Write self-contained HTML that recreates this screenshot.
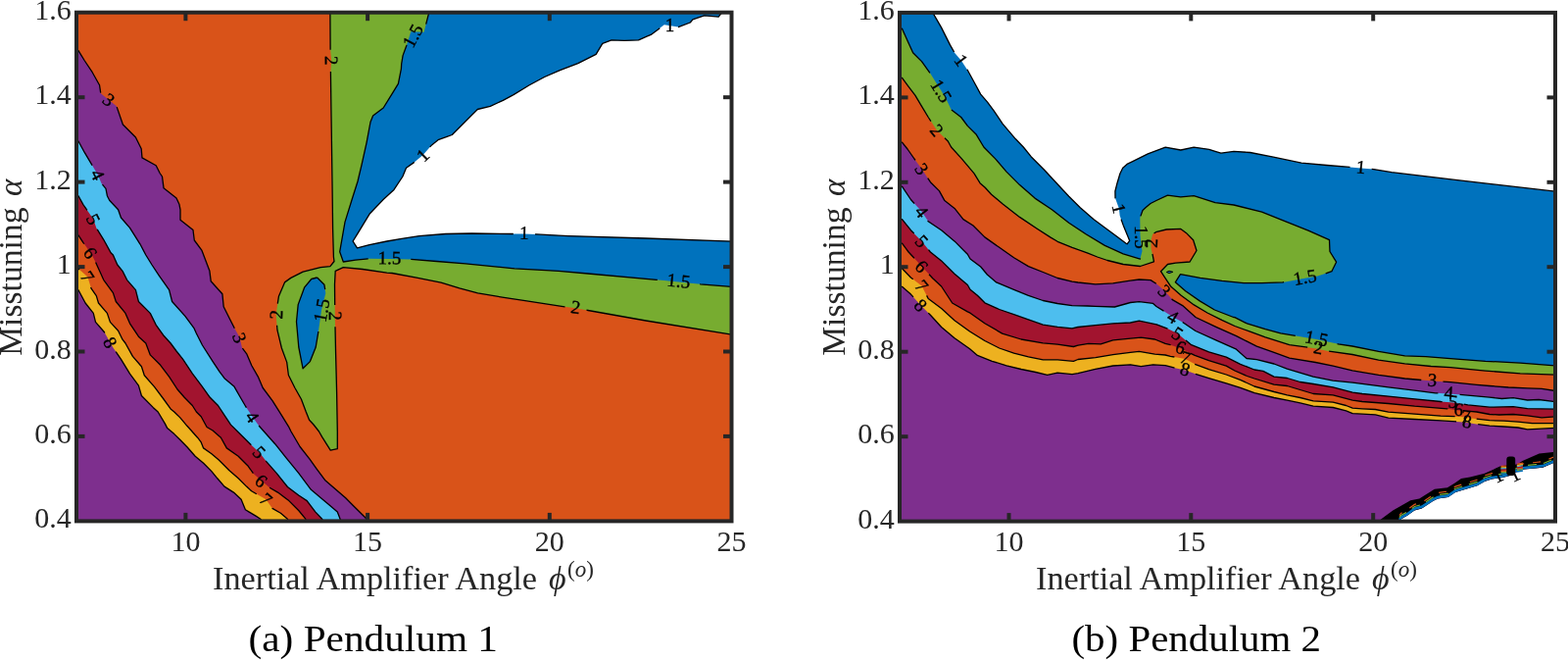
<!DOCTYPE html>
<html><head><meta charset="utf-8"><style>html,body{margin:0;padding:0;background:#fff;width:1600px;height:673px;overflow:hidden}svg{display:block}</style></head><body>
<svg width="1600" height="673" viewBox="0 0 1600 673" font-family='"Liberation Serif", "DejaVu Serif", serif'>
<rect width="1600" height="673" fill="#fff"/>
<clipPath id="cl"><rect x="78" y="12.7" width="668.5" height="518.6999999999999"/></clipPath>
<g clip-path="url(#cl)">
<rect x="78" y="12.7" width="668.5" height="518.6999999999999" fill="#D95319"/>
<polygon points="78.0,51.6 80.0,51.6 86.4,62.0 94.2,73.7 101.5,86.7 102.8,95.3 110.8,101.8 118.9,108.3 125.4,127.0 138.4,140.0 144.2,151.8 145.0,160.9 159.2,168.7 163.1,176.5 165.5,180.0 167.0,191.7 180.0,202.0 183.0,208.6 184.0,213.8 184.0,224.2 197.0,234.6 198.3,245.0 206.0,255.4 213.9,276.3 215.2,286.7 226.9,299.7 228.2,312.7 234.7,325.7 240.0,336.0 244.5,344.1 247.0,354.7 251.9,361.2 256.8,372.7 263.3,384.1 268.2,395.5 278.0,408.6 286.2,421.7 294.4,434.8 297.0,440.0 306.1,455.5 316.0,468.2 323.1,478.1 331.5,489.4 342.8,499.3 352.7,507.8 362.6,517.7 372.5,527.5 373.9,529.2 375.5,531.4 78.0,531.4" fill="#7E2F8E"/>
<polygon points="78.0,144.0 80.0,144.0 86.4,155.7 94.2,168.7 99.8,178.2 103.5,187.1 108.0,192.3 109.4,199.7 111.7,204.2 120.6,213.8 123.5,222.0 132.5,232.4 142.9,248.8 148.8,260.0 155.0,270.0 162.2,280.8 172.6,295.7 175.6,307.5 188.9,322.4 197.8,334.3 200.4,340.0 206.5,352.0 217.6,369.4 224.1,379.2 229.0,385.7 238.8,393.9 245.3,405.3 251.0,415.0 257.6,425.0 263.3,433.1 269.4,440.0 280.7,452.7 292.0,466.8 304.7,482.4 317.4,499.3 335.8,514.8 344.3,521.9 347.1,529.2 347.5,531.4 78.0,531.4" fill="#4DBEEE"/>
<polygon points="78.0,199.7 80.0,199.7 84.9,208.6 90.1,216.1 95.3,223.5 98.3,232.4 105.7,244.3 113.1,257.7 115.4,260.0 119.8,270.0 125.0,276.3 129.5,285.3 138.4,295.7 141.4,307.5 153.3,319.4 159.2,331.3 166.6,341.7 174.1,350.0 180.0,358.0 186.5,366.1 196.3,380.8 206.1,393.9 214.3,405.3 222.5,413.5 229.0,423.3 235.5,433.1 243.7,441.3 255.3,452.7 264.5,461.2 272.2,471.1 282.1,482.4 293.4,496.5 304.7,505.0 313.2,510.6 321.7,521.9 328.7,529.2 329.5,531.4 78.0,531.4" fill="#A2142F"/>
<polygon points="78.0,239.8 80.0,239.8 84.9,247.3 92.3,257.7 93.8,260.0 98.3,268.9 105.7,285.3 115.4,298.6 118.3,307.5 128.0,319.4 132.5,329.8 141.4,343.2 148.8,350.0 153.3,361.9 163.7,372.3 172.6,384.2 181.0,397.0 188.2,405.3 196.3,413.5 200.4,420.0 205.2,424.8 211.1,435.5 217.1,439.0 225.4,446.2 231.3,456.9 243.2,465.2 252.7,474.7 258.7,483.0 266.6,490.1 275.1,497.2 283.5,502.1 294.8,510.6 304.7,520.5 311.8,529.2 312.5,531.4 78.0,531.4" fill="#D95319"/>
<polygon points="78.0,274.1 80.0,274.1 89.4,282.3 93.1,294.2 98.3,301.6 100.5,309.0 109.4,319.4 112.4,328.4 120.6,337.3 125.0,346.2 128.0,350.0 135.4,363.4 144.4,373.8 147.3,382.7 157.7,394.6 166.6,406.5 174.1,416.9 177.8,420.0 183.8,425.9 190.9,434.3 201.6,446.2 205.2,450.9 207.6,456.9 215.9,462.8 223.0,468.8 229.0,474.7 233.7,479.5 243.2,487.8 251.6,496.1 256.7,500.7 264.0,505.0 271.5,509.2 277.9,518.4 286.4,523.3 293.4,529.2 294.0,531.4 78.0,531.4" fill="#EDB120"/>
<polygon points="78.0,295.7 80.0,295.7 87.1,309.0 95.3,319.4 97.5,328.4 106.5,338.8 112.4,349.2 115.4,354.5 123.5,366.3 132.5,381.2 141.4,393.1 144.4,403.5 156.2,415.4 161.2,420.0 168.3,431.9 170.7,436.6 177.8,442.6 183.8,448.5 190.9,455.7 199.2,465.2 207.6,472.3 215.9,480.6 221.8,487.8 229.0,496.1 238.4,502.1 246.1,509.2 250.4,519.8 253.9,521.9 261.0,526.1 265.9,529.2 267.0,531.4 78.0,531.4" fill="#7E2F8E"/>
<polygon points="336.7,12.7 336.9,14.1 337.1,50.4 338.2,61.8 337.4,73.2 337.9,110.0 339.0,185.0 339.6,233.5 340.4,262.0 341.0,266.5 336.9,271.6 327.1,272.7 309.2,277.2 296.8,283.4 290.5,287.9 284.5,301.9 281.6,320.7 283.0,336.7 287.4,355.0 292.7,369.4 294.4,382.5 300.9,395.5 307.4,407.0 312.3,420.1 315.6,428.2 320.0,433.0 325.5,440.0 328.7,445.6 337.2,459.1 344.3,457.7 344.3,440.0 343.6,400.0 342.5,357.0 341.8,322.2 341.5,290.0 342.2,276.3 350.3,272.7 369.9,274.5 394.8,278.1 400.0,278.5 425.0,283.1 450.0,288.1 468.8,293.8 487.5,298.8 512.5,303.1 537.5,306.9 576.3,312.8 587.5,314.3 600.0,316.5 659.1,327.0 746.5,341.2 746.5,12.7" fill="#77AC30"/>
<polygon points="437.4,12.7 437.4,14.1 433.8,28.0 432.7,32.8 419.3,32.2 414.9,46.2 411.1,56.6 409.7,65.0 409.4,70.1 406.4,85.3 401.8,92.8 391.2,110.0 380.6,118.0 378.0,124.5 374.1,145.3 368.9,168.7 365.0,185.0 359.2,203.2 352.0,226.4 346.7,256.7 350.3,267.0 362.7,265.2 377.0,263.8 397.5,264.0 418.9,264.4 445.7,266.5 475.0,268.8 525.0,273.8 552.7,275.4 570.0,276.4 600.0,279.0 670.2,285.3 692.5,287.5 714.8,289.8 746.5,292.4 746.5,12.7" fill="#0072BD"/>
<polygon points="735.8,12.7 735.8,13.8 733.2,17.2 718.7,15.9 706.9,19.8 704.3,23.0 692.1,27.6 677.8,25.3 664.2,35.4 660.0,37.1 651.6,40.9 637.2,41.4 624.0,40.9 614.8,44.3 608.2,55.4 589.8,64.6 571.4,71.7 555.6,78.5 539.8,87.0 524.0,96.6 513.3,102.4 500.3,108.3 487.3,111.5 479.5,119.3 461.3,137.5 456.1,139.3 447.0,142.7 440.5,147.9 431.4,158.3 423.6,164.8 414.5,171.3 410.9,180.0 402.0,193.4 391.3,203.2 377.0,218.3 364.5,238.9 360.1,246.0 364.5,252.8 377.0,249.6 394.8,246.0 410.0,243.3 427.8,240.6 454.6,238.5 481.4,238.0 522.4,238.5 534.9,238.6 547.4,238.9 570.0,240.1 580.0,240.6 659.1,243.0 746.5,246.1 746.5,12.7" fill="#fff"/>
<polygon points="323.6,283.0 330.9,290.3 332.3,299.0 330.0,308.0 328.0,316.4 325.1,336.7 322.2,354.0 316.4,368.6 309.1,375.8 304.8,354.0 302.5,328.0 304.2,310.6 310.6,293.2 317.8,284.5 323.6,283.0" fill="#0072BD"/>
<path d="M78.0,51.6 L80.0,51.6 L86.4,62.0 L94.2,73.7 L101.5,86.7 L102.7,94.6 M119.2,109.1 L125.4,127.0 L138.4,140.0 L144.2,151.8 L145.0,160.9 L159.2,168.7 L163.1,176.5 L165.5,180.0 L167.0,191.7 L180.0,202.0 L183.0,208.6 L184.0,213.8 L184.0,224.2 L197.0,234.6 L198.3,245.0 L206.0,255.4 L213.9,276.3 L215.2,286.7 L226.9,299.7 L228.2,312.7 L234.7,325.7 L239.3,334.7 M247.4,355.2 L251.9,361.2 L256.8,372.7 L263.3,384.1 L268.2,395.5 L278.0,408.6 L286.2,421.7 L294.4,434.8 L297.0,440.0 L306.1,455.5 L316.0,468.2 L323.1,478.1 L331.5,489.4 L342.8,499.3 L352.7,507.8 L362.6,517.7 L372.5,527.5 L373.9,529.2 L375.5,531.4" fill="none" stroke="#000" stroke-width="1.3" stroke-linejoin="round"/>
<path d="M78.0,144.0 L80.0,144.0 L86.4,155.7 L94.1,168.6 M104.5,188.2 L108.0,192.3 L109.4,199.7 L111.7,204.2 L120.6,213.8 L123.5,222.0 L132.5,232.4 L142.9,248.8 L148.8,260.0 L155.0,270.0 L162.2,280.8 L172.6,295.7 L175.6,307.5 L188.9,322.4 L197.8,334.3 L200.4,340.0 L206.5,352.0 L217.6,369.4 L224.1,379.2 L229.0,385.7 L238.8,393.9 L245.3,405.3 L251.0,415.0 L251.5,415.7 M264.1,434.0 L269.4,440.0 L280.7,452.7 L292.0,466.8 L304.7,482.4 L317.4,499.3 L335.8,514.8 L344.3,521.9 L347.1,529.2 L347.5,531.4" fill="none" stroke="#000" stroke-width="1.3" stroke-linejoin="round"/>
<path d="M78.0,199.7 L80.0,199.7 L84.9,208.6 L88.9,214.4 M99.2,233.9 L105.7,244.3 L113.1,257.7 L115.4,260.0 L119.8,270.0 L125.0,276.3 L129.5,285.3 L138.4,295.7 L141.4,307.5 L153.3,319.4 L159.2,331.3 L166.6,341.7 L174.1,350.0 L180.0,358.0 L186.5,366.1 L196.3,380.8 L206.1,393.9 L214.3,405.3 L222.5,413.5 L229.0,423.3 L235.5,433.1 L243.7,441.3 L255.3,452.7 L256.3,453.7 M271.3,470.0 L272.2,471.1 L282.1,482.4 L293.4,496.5 L304.7,505.0 L313.2,510.6 L321.7,521.9 L328.7,529.2 L329.5,531.4" fill="none" stroke="#000" stroke-width="1.3" stroke-linejoin="round"/>
<path d="M78.0,239.8 L80.0,239.8 L84.9,247.3 L85.9,248.6 M97.6,267.5 L98.3,268.9 L105.7,285.3 L115.4,298.6 L118.3,307.5 L128.0,319.4 L132.5,329.8 L141.4,343.2 L148.8,350.0 L153.3,361.9 L163.7,372.3 L172.6,384.2 L181.0,397.0 L188.2,405.3 L196.3,413.5 L200.4,420.0 L205.2,424.8 L211.1,435.5 L217.1,439.0 L225.4,446.2 L231.3,456.9 L243.2,465.2 L252.7,474.7 L258.4,482.6 M275.1,497.2 L283.5,502.1 L294.8,510.6 L304.7,520.5 L311.8,529.2 L312.5,531.4" fill="none" stroke="#000" stroke-width="1.3" stroke-linejoin="round"/>
<path d="M78.0,274.1 L80.0,274.1 L81.0,275.0 M92.7,292.9 L93.1,294.2 L98.3,301.6 L100.5,309.0 L109.4,319.4 L112.4,328.4 L120.6,337.3 L125.0,346.2 L128.0,350.0 L135.4,363.4 L144.4,373.8 L147.3,382.7 L157.7,394.6 L166.6,406.5 L174.1,416.9 L177.8,420.0 L183.8,425.9 L190.9,434.3 L201.6,446.2 L205.2,450.9 L207.6,456.9 L215.9,462.8 L223.0,468.8 L229.0,474.7 L233.7,479.5 L243.2,487.8 L251.6,496.1 L256.7,500.7 L261.8,503.7 M277.9,518.3 L277.9,518.4 L286.4,523.3 L293.4,529.2 L294.0,531.4" fill="none" stroke="#000" stroke-width="1.3" stroke-linejoin="round"/>
<path d="M78.0,295.7 L80.0,295.7 L87.1,309.0 L95.3,319.4 L97.5,328.4 L106.5,338.8 L106.9,339.5 M118.2,358.7 L123.5,366.3 L132.5,381.2 L141.4,393.1 L144.4,403.5 L156.2,415.4 L161.2,420.0 L168.3,431.9 L170.7,436.6 L177.8,442.6 L183.8,448.5 L190.9,455.7 L199.2,465.2 L207.6,472.3 L215.9,480.6 L221.8,487.8 L229.0,496.1 L238.4,502.1 L246.1,509.2 L250.4,519.8 L253.9,521.9 L261.0,526.1 L265.9,529.2 L267.0,531.4" fill="none" stroke="#000" stroke-width="1.3" stroke-linejoin="round"/>
<path d="M336.7,12.7 L336.9,14.1 L337.1,50.4 L337.1,50.7 M337.4,72.9 L337.4,73.2 L337.9,110.0 L339.0,185.0 L339.6,233.5 L340.4,262.0 L341.0,266.5 L336.9,271.6 L327.1,272.7 L309.2,277.2 L296.8,283.4 L290.5,287.9 L284.5,301.9 L283.3,309.7 M282.6,331.8 L283.0,336.7 L287.4,355.0 L292.7,369.4 L294.4,382.5 L300.9,395.5 L307.4,407.0 L312.3,420.1 L315.6,428.2 L320.0,433.0 L325.5,440.0 L328.7,445.6 L337.2,459.1 L344.3,457.7 L344.3,440.0 L343.6,400.0 L342.5,357.0 L342.0,333.3 M341.7,311.1 L341.5,290.0 L342.2,276.3 L350.3,272.7 L369.9,274.5 L394.8,278.1 L400.0,278.5 L425.0,283.1 L450.0,288.1 L468.8,293.8 L487.5,298.8 L512.5,303.1 L537.5,306.9 L576.3,312.8 L576.5,312.8 M598.5,316.2 L600.0,316.5 L659.1,327.0 L746.5,341.2" fill="none" stroke="#000" stroke-width="1.3" stroke-linejoin="round"/>
<path d="M437.4,12.7 L437.4,14.1 L434.7,24.7 M415.0,45.8 L414.9,46.2 L411.1,56.6 L409.7,65.0 L409.4,70.1 L406.4,85.3 L401.8,92.8 L391.2,110.0 L380.6,118.0 L378.0,124.5 L374.1,145.3 L368.9,168.7 L365.0,185.0 L359.2,203.2 L352.0,226.4 L346.7,256.7 L350.3,267.0 L362.7,265.2 L375.7,263.9 M419.3,264.4 L445.7,266.5 L475.0,268.8 L525.0,273.8 L552.7,275.4 L570.0,276.4 L600.0,279.0 L670.2,285.3 L670.8,285.4 M714.2,289.7 L714.8,289.8 L746.5,292.4" fill="none" stroke="#000" stroke-width="1.3" stroke-linejoin="round"/>
<path d="M735.8,12.7 L735.8,13.8 L733.2,17.2 L718.7,15.9 L706.9,19.8 L704.3,23.0 L692.1,27.6 L692.0,27.6 M673.3,28.7 L664.2,35.4 L660.0,37.1 L651.6,40.9 L637.2,41.4 L624.0,40.9 L614.8,44.3 L608.2,55.4 L589.8,64.6 L571.4,71.7 L555.6,78.5 L539.8,87.0 L524.0,96.6 L513.3,102.4 L500.3,108.3 L487.3,111.5 L479.5,119.3 L461.3,137.5 L456.1,139.3 L447.0,142.7 L440.5,147.9 L438.7,149.9 M422.8,165.4 L414.5,171.3 L410.9,180.0 L402.0,193.4 L391.3,203.2 L377.0,218.3 L364.5,238.9 L360.1,246.0 L364.5,252.8 L377.0,249.6 L394.8,246.0 L410.0,243.3 L427.8,240.6 L454.6,238.5 L481.4,238.0 L522.4,238.5 L523.8,238.5 M546.0,238.9 L547.4,238.9 L570.0,240.1 L580.0,240.6 L659.1,243.0 L746.5,246.1" fill="none" stroke="#000" stroke-width="1.3" stroke-linejoin="round"/>
<path d="M323.6,283.0 L330.9,290.3 L331.7,295.2 M324.9,338.0 L322.2,354.0 L316.4,368.6 L309.1,375.8 L304.8,354.0 L302.5,328.0 L304.2,310.6 L310.6,293.2 L317.8,284.5 L323.6,283.0" fill="none" stroke="#000" stroke-width="1.3" stroke-linejoin="round"/>
</g>
<text x="111.0" y="101.8" transform="rotate(38.9 111.0 101.8)" text-anchor="middle" dominant-baseline="central" font-size="19" fill="#000" stroke="#000" stroke-width="0.35">3</text>
<text x="244.5" y="344.5" transform="rotate(69.4 244.5 344.5)" text-anchor="middle" dominant-baseline="central" font-size="19" fill="#000" stroke="#000" stroke-width="0.35">3</text>
<text x="99.8" y="178.2" transform="rotate(63.5 99.8 178.2)" text-anchor="middle" dominant-baseline="central" font-size="19" fill="#000" stroke="#000" stroke-width="0.35">4</text>
<text x="257.6" y="425.0" transform="rotate(55.7 257.6 425.0)" text-anchor="middle" dominant-baseline="central" font-size="19" fill="#000" stroke="#000" stroke-width="0.35">4</text>
<text x="95.3" y="223.5" transform="rotate(63.1 95.3 223.5)" text-anchor="middle" dominant-baseline="central" font-size="19" fill="#000" stroke="#000" stroke-width="0.35">5</text>
<text x="264.5" y="461.2" transform="rotate(47.4 264.5 461.2)" text-anchor="middle" dominant-baseline="central" font-size="19" fill="#000" stroke="#000" stroke-width="0.35">5</text>
<text x="92.3" y="257.7" transform="rotate(57.4 92.3 257.7)" text-anchor="middle" dominant-baseline="central" font-size="19" fill="#000" stroke="#000" stroke-width="0.35">6</text>
<text x="266.6" y="490.1" transform="rotate(40.9 266.6 490.1)" text-anchor="middle" dominant-baseline="central" font-size="19" fill="#000" stroke="#000" stroke-width="0.35">6</text>
<text x="89.4" y="282.3" transform="rotate(56.9 89.4 282.3)" text-anchor="middle" dominant-baseline="central" font-size="19" fill="#000" stroke="#000" stroke-width="0.35">7</text>
<text x="271.5" y="509.2" transform="rotate(42.2 271.5 509.2)" text-anchor="middle" dominant-baseline="central" font-size="19" fill="#000" stroke="#000" stroke-width="0.35">7</text>
<text x="112.4" y="349.2" transform="rotate(60.5 112.4 349.2)" text-anchor="middle" dominant-baseline="central" font-size="19" fill="#000" stroke="#000" stroke-width="0.35">8</text>
<text x="338.4" y="61.8" transform="rotate(89.3 338.4 61.8)" text-anchor="middle" dominant-baseline="central" font-size="19" fill="#000" stroke="#000" stroke-width="0.35">2</text>
<text x="281.6" y="320.7" transform="rotate(-88.1 281.6 320.7)" text-anchor="middle" dominant-baseline="central" font-size="19" fill="#000" stroke="#000" stroke-width="0.35">2</text>
<text x="342.4" y="322.2" transform="rotate(89.2 342.4 322.2)" text-anchor="middle" dominant-baseline="central" font-size="19" fill="#000" stroke="#000" stroke-width="0.35">2</text>
<text x="587.5" y="313.1" transform="rotate(8.8 587.5 313.1)" text-anchor="middle" dominant-baseline="central" font-size="19" fill="#000" stroke="#000" stroke-width="0.35">2</text>
<text x="421.2" y="36.5" transform="rotate(-62.0 421.2 36.5)" text-anchor="middle" dominant-baseline="central" font-size="19" fill="#000" stroke="#000" stroke-width="0.35">1.5</text>
<text x="397.5" y="262.8" transform="rotate(0.8 397.5 262.8)" text-anchor="middle" dominant-baseline="central" font-size="19" fill="#000" stroke="#000" stroke-width="0.35">1.5</text>
<text x="692.5" y="286.3" transform="rotate(5.8 692.5 286.3)" text-anchor="middle" dominant-baseline="central" font-size="19" fill="#000" stroke="#000" stroke-width="0.35">1.5</text>
<text x="328.0" y="316.4" transform="rotate(-79.2 328.0 316.4)" text-anchor="middle" dominant-baseline="central" font-size="19" fill="#000" stroke="#000" stroke-width="0.35">1.5</text>
<text x="683.5" y="25.0" transform="rotate(0.0 683.5 25.0)" text-anchor="middle" dominant-baseline="central" font-size="19" fill="#000" stroke="#000" stroke-width="0.35">1</text>
<text x="431.4" y="158.3" transform="rotate(-44.3 431.4 158.3)" text-anchor="middle" dominant-baseline="central" font-size="19" fill="#000" stroke="#000" stroke-width="0.35">1</text>
<text x="534.9" y="237.4" transform="rotate(0.9 534.9 237.4)" text-anchor="middle" dominant-baseline="central" font-size="19" fill="#000" stroke="#000" stroke-width="0.35">1</text>
<clipPath id="cr"><rect x="918" y="12.9" width="669" height="518.7"/></clipPath>
<g clip-path="url(#cr)">
<rect x="918" y="12.9" width="669" height="518.7" fill="#7E2F8E"/>
<polygon points="918.0,292.3 920.5,292.3 929.4,300.1 939.4,311.2 949.4,321.2 960.6,333.5 974.0,344.7 989.6,355.8 997.4,362.4 1012.3,368.3 1027.1,372.8 1042.0,376.5 1056.8,379.5 1068.7,382.4 1079.1,380.2 1094.0,381.7 1100.0,380.7 1117.8,376.3 1135.7,373.0 1153.5,371.8 1164.2,373.6 1176.6,371.8 1189.1,372.7 1197.8,374.9 1209.4,377.5 1219.2,381.1 1233.5,385.6 1251.3,390.9 1265.6,395.4 1280.0,400.7 1300.0,405.5 1313.4,408.2 1326.7,410.9 1340.1,414.2 1360.2,415.5 1373.5,418.9 1380.2,421.6 1390.0,422.2 1403.4,422.9 1416.7,426.2 1443.5,427.5 1470.2,428.9 1490.0,430.2 1497.2,431.0 1506.7,432.5 1520.0,434.1 1534.5,435.0 1549.0,436.0 1558.6,437.9 1568.3,437.4 1587.0,436.4 1587.0,12.9 918.0,12.9" fill="#EDB120"/>
<polygon points="918.0,273.7 920.5,273.7 929.4,283.0 940.5,291.5 947.2,304.5 960.6,314.6 974.0,326.8 989.6,338.0 1004.9,347.5 1019.7,355.0 1034.6,360.2 1049.4,363.9 1064.3,366.8 1079.1,366.8 1095.4,368.3 1100.0,366.5 1117.8,364.7 1135.7,361.6 1153.5,359.3 1162.4,358.4 1178.4,361.1 1189.1,362.0 1194.3,363.3 1209.4,366.0 1219.2,371.3 1233.5,376.6 1251.3,382.0 1265.6,387.3 1280.0,394.0 1300.0,399.5 1313.4,402.8 1326.7,405.5 1340.1,408.9 1360.2,410.2 1373.5,413.5 1380.2,416.2 1390.0,416.8 1403.4,417.5 1416.7,420.2 1443.5,422.2 1470.2,424.2 1490.0,424.9 1495.7,425.5 1506.7,427.2 1520.0,428.7 1534.5,429.2 1549.0,430.2 1563.4,431.6 1587.0,431.6 1587.0,12.9 918.0,12.9" fill="#D95319"/>
<polygon points="918.0,248.1 920.5,248.1 927.1,257.0 940.5,271.5 951.7,283.8 960.6,292.0 971.7,309.0 987.3,317.9 990.0,319.2 1004.9,329.7 1022.7,340.1 1042.0,346.0 1064.3,349.8 1079.1,351.2 1095.4,353.5 1100.0,352.2 1110.7,350.4 1123.2,350.9 1135.7,346.8 1153.5,345.1 1164.2,344.2 1178.4,346.0 1189.1,350.4 1194.3,351.7 1205.0,355.3 1219.2,362.4 1233.5,367.7 1251.3,373.1 1260.0,378.0 1272.5,383.5 1280.0,386.0 1300.0,392.1 1313.4,393.5 1326.7,397.5 1340.1,401.5 1360.2,402.8 1380.2,408.2 1390.0,409.5 1416.7,411.5 1443.5,414.2 1476.9,416.8 1488.4,418.5 1506.7,420.0 1520.0,422.5 1529.7,423.0 1544.1,422.5 1558.6,423.9 1573.1,425.8 1587.0,424.8 1587.0,12.9 918.0,12.9" fill="#A2142F"/>
<polygon points="918.0,223.6 920.5,223.6 929.4,234.7 940.5,245.9 949.4,257.0 960.6,265.9 974.0,279.3 987.3,290.5 990.0,295.3 997.4,301.3 1004.9,308.8 1019.7,315.5 1034.6,320.7 1049.4,325.9 1064.3,331.2 1079.1,333.4 1094.0,334.9 1100.0,333.5 1117.8,331.7 1135.7,329.9 1153.5,329.0 1162.4,327.2 1180.2,330.8 1190.7,334.8 1201.4,340.1 1215.7,351.7 1233.5,358.8 1251.3,364.2 1265.6,371.3 1280.0,377.0 1288.9,378.4 1300.0,384.1 1313.4,385.5 1326.7,389.5 1340.1,391.5 1360.2,394.8 1380.2,400.2 1390.0,401.5 1416.7,404.1 1443.5,406.8 1470.2,409.5 1482.7,410.5 1497.8,412.9 1520.0,415.2 1544.1,414.7 1558.6,416.7 1587.0,417.2 1587.0,12.9 918.0,12.9" fill="#4DBEEE"/>
<polygon points="918.0,190.1 920.5,190.1 929.4,203.5 940.5,215.8 947.2,225.8 960.6,234.7 974.0,245.9 987.3,259.3 990.0,264.0 1000.7,272.0 1007.4,280.0 1016.7,287.9 1034.6,295.3 1049.4,301.3 1064.3,306.5 1079.1,309.5 1094.0,311.7 1110.0,312.0 1117.8,312.4 1137.4,313.0 1153.5,308.5 1162.4,307.6 1176.6,309.4 1180.0,312.5 1187.1,316.9 1196.9,323.2 1206.7,328.5 1220.0,337.5 1240.8,346.8 1261.6,356.2 1272.0,365.5 1282.4,366.6 1300.0,371.0 1313.4,376.1 1326.7,380.1 1340.1,384.1 1360.2,388.1 1380.2,390.1 1390.0,391.4 1416.7,394.8 1443.5,398.1 1464.9,400.8 1478.5,401.5 1497.8,403.1 1520.0,405.1 1532.5,406.5 1544.1,405.6 1558.6,408.0 1570.2,407.5 1587.0,409.6 1587.0,12.9 918.0,12.9" fill="#7E2F8E"/>
<polygon points="918.0,145.1 920.5,145.1 926.0,152.0 933.0,162.0 940.5,172.3 949.4,185.7 958.4,194.6 963.9,204.6 974.0,212.4 982.9,223.6 993.0,230.0 1004.9,241.9 1019.7,252.3 1034.6,262.7 1049.4,271.6 1064.3,277.5 1079.1,283.5 1094.0,287.2 1100.0,288.0 1117.8,289.8 1135.7,288.9 1153.5,286.2 1162.4,285.0 1174.1,285.6 1180.0,289.3 1188.2,296.5 1196.3,305.6 1206.7,311.6 1220.0,323.5 1240.8,333.3 1261.6,342.7 1272.0,347.9 1282.4,353.1 1300.0,359.3 1315.7,365.1 1342.4,369.5 1360.2,373.1 1380.0,377.9 1406.7,382.4 1433.5,386.0 1461.8,388.5 1480.0,389.7 1506.7,392.4 1520.0,393.5 1539.3,395.0 1558.6,395.9 1573.1,396.4 1587.0,398.5 1587.0,12.9 918.0,12.9" fill="#D95319"/>
<polygon points="918.0,79.3 920.5,79.3 927.1,88.3 933.8,97.2 940.5,108.3 947.2,119.5 956.1,132.9 967.3,144.0 970.6,150.0 980.7,161.1 994.0,176.8 1000.0,186.7 1005.2,191.2 1011.6,198.3 1023.2,207.9 1040.5,221.4 1057.9,233.0 1071.7,241.9 1079.1,246.3 1094.0,252.3 1110.0,258.2 1119.7,262.0 1130.0,265.5 1146.1,269.5 1163.4,271.5 1177.5,266.8 1176.2,260.1 1174.5,253.0 1174.5,245.0 1176.2,238.7 1179.5,236.7 1190.2,234.0 1204.9,233.4 1210.3,237.4 1217.6,244.7 1221.0,255.5 1214.1,267.0 1199.6,268.2 1191.5,269.5 1184.5,276.7 1188.9,283.4 1194.9,292.3 1205.2,301.2 1217.1,310.1 1232.0,319.0 1246.8,326.4 1260.0,332.5 1275.6,338.2 1291.2,343.9 1315.7,351.7 1343.3,355.5 1354.9,357.9 1380.0,361.5 1406.7,367.2 1433.5,370.8 1460.2,373.5 1480.0,374.6 1515.7,378.1 1551.3,380.8 1587.0,382.1 1587.0,12.9 918.0,12.9" fill="#77AC30"/>
<polygon points="918.0,29.2 920.5,29.2 926.0,41.4 931.6,53.7 940.5,62.6 949.4,74.9 955.0,84.0 960.6,92.7 966.0,102.0 970.6,111.7 980.7,119.5 987.3,128.4 996.3,137.3 1003.9,150.0 1015.4,161.6 1027.0,175.1 1040.5,188.6 1056.0,202.1 1073.4,213.7 1090.7,227.2 1108.1,238.8 1127.4,250.4 1146.1,258.8 1163.4,264.1 1165.5,256.1 1164.3,248.0 1163.5,240.0 1163.3,222.0 1166.0,214.5 1169.2,211.6 1174.0,207.5 1179.9,204.5 1191.4,199.1 1204.8,200.9 1218.2,199.6 1233.8,204.7 1240.0,206.6 1259.0,209.0 1287.6,216.1 1311.3,225.6 1335.1,235.1 1356.5,244.6 1357.0,256.5 1363.6,267.2 1358.9,276.7 1344.6,281.5 1331.5,283.7 1309.0,287.9 1287.6,288.6 1269.1,288.6 1246.8,286.3 1224.6,283.4 1204.5,279.7 1199.3,287.8 1209.7,296.7 1224.6,307.1 1239.4,316.0 1258.7,323.5 1260.0,323.6 1272.5,329.9 1291.2,335.6 1306.8,339.8 1322.4,342.4 1343.3,346.0 1365.6,350.8 1380.0,353.0 1406.7,358.3 1433.5,362.8 1454.9,363.7 1480.0,365.7 1515.7,368.3 1551.3,370.1 1587.0,372.8 1587.0,12.9 918.0,12.9" fill="#0072BD"/>
<polygon points="952.8,12.9 952.8,14.7 960.6,28.1 969.5,45.9 974.0,53.7 980.7,61.5 987.3,71.5 994.0,83.8 1000.7,96.1 1007.4,103.9 1014.1,112.8 1023.0,126.2 1036.4,141.8 1044.3,150.0 1052.1,159.7 1065.6,173.2 1077.2,185.7 1090.7,200.2 1102.3,211.8 1115.8,223.4 1131.3,234.9 1140.1,241.5 1149.1,248.2 1150.1,248.8 1152.7,245.4 1146.1,229.4 1142.7,220.0 1141.9,212.7 1138.0,202.1 1137.9,195.0 1140.0,186.7 1142.9,177.0 1145.7,171.2 1150.0,167.4 1155.7,164.6 1171.3,156.8 1189.2,150.1 1204.8,153.0 1218.2,150.1 1233.8,152.3 1240.0,154.3 1245.9,156.2 1259.0,154.3 1275.7,155.5 1299.4,160.2 1328.0,166.2 1354.1,168.5 1377.9,170.4 1388.6,171.4 1401.7,172.6 1420.0,175.7 1489.2,183.9 1587.0,195.2 1587.0,12.9" fill="#fff"/>
<polygon points="1190.3,277.5 1193,276.3 1196.8,277.3 1193,278.6" fill="#0072BD" stroke="#000" stroke-width="1"/>
<polygon points="1587.0,472.0 1584.7,472.3 1574.3,476.7 1566.9,477.5 1555.7,478.6 1550.5,479.7 1540.9,484.9 1533.4,487.1 1522.3,488.6 1514.9,490.9 1507.4,495.3 1500.0,497.5 1485.0,502.1 1477.7,507.0 1467.1,508.6 1462.2,511.0 1450.8,518.4 1443.4,520.4 1436.0,525.8 1429.5,529.4 1428.0,531.6 1587.0,531.6" fill="#fff"/>
<polygon points="1407.0,531.6 1409.1,529.4 1421.3,520.4 1439.3,510.2 1448.3,508.6 1463.8,498.8 1476.9,497.2 1485.0,492.3 1491.0,487.9 1500.0,486.4 1514.9,482.7 1531.2,475.3 1537.0,474.5 1548.0,473.5 1553.5,470.1 1570.6,462.6 1584.7,461.1 1587.0,461.0 1587.0,472.0 1584.7,472.3 1574.3,476.7 1566.9,477.5 1555.7,478.6 1550.5,479.7 1540.9,484.9 1533.4,487.1 1522.3,488.6 1514.9,490.9 1507.4,495.3 1500.0,497.5 1485.0,502.1 1477.7,507.0 1467.1,508.6 1462.2,511.0 1450.8,518.4 1443.4,520.4 1436.0,525.8 1429.5,529.4 1428.0,531.6" fill="#000"/>
<polyline points="1428.0,530.0 1429.5,527.8 1436.0,524.2 1443.4,518.8 1450.8,516.8 1462.2,509.4 1467.1,507.0 1477.7,505.4 1485.0,500.5 1500.0,495.9 1507.4,493.7 1514.9,489.3 1522.3,487.0 1533.4,485.5 1540.9,483.3 1550.5,478.1 1555.7,477.0 1566.9,475.9 1574.3,475.1 1584.7,470.7 1587.0,470.4" fill="none" stroke="#0072BD" stroke-width="2.6"/>
<polyline points="1428.0,527.7 1429.5,525.5 1436.0,521.9 1443.4,516.5 1450.8,514.5 1462.2,507.1 1467.1,504.7 1477.7,503.1 1485.0,498.2 1500.0,493.6 1507.4,491.4 1514.9,487.0 1522.3,484.7 1533.4,483.2 1540.9,481.0 1550.5,475.8 1555.7,474.7 1566.9,473.6 1574.3,472.8 1584.7,468.4 1587.0,468.1" fill="none" stroke="#77AC30" stroke-width="1.2" stroke-dasharray="9 7"/>
<polyline points="1428.0,525.6 1429.5,523.4 1436.0,519.8 1443.4,514.4 1450.8,512.4 1462.2,505.0 1467.1,502.6 1477.7,501.0 1485.0,496.1 1500.0,491.5 1507.4,489.3 1514.9,484.9 1522.3,482.6 1533.4,481.1 1540.9,478.9 1550.5,473.7 1555.7,472.6 1566.9,471.5 1574.3,470.7 1584.7,466.3 1587.0,466.0" fill="none" stroke="#D95319" stroke-width="1.2" stroke-dasharray="8 9" stroke-dashoffset="4"/>
<line x1="1531.5" y1="475.4" x2="1537.5" y2="475.2" stroke="#D95319" stroke-width="1.3"/>
<line x1="1548" y1="473.2" x2="1554" y2="472.2" stroke="#D95319" stroke-width="1.3"/>
<line x1="1531.5" y1="476.8" x2="1537.5" y2="476.6" stroke="#EDB120" stroke-width="1.3"/>
<line x1="1548" y1="474.6" x2="1554" y2="473.6" stroke="#EDB120" stroke-width="1.3"/>
<line x1="1531.5" y1="478.0" x2="1537.5" y2="477.8" stroke="#4DBEEE" stroke-width="1.3"/>
<line x1="1548" y1="475.8" x2="1554" y2="474.8" stroke="#4DBEEE" stroke-width="1.3"/>
<line x1="1531.5" y1="479.2" x2="1537.5" y2="479.0" stroke="#A2142F" stroke-width="1.3"/>
<line x1="1548" y1="477.0" x2="1554" y2="476.0" stroke="#A2142F" stroke-width="1.3"/>
<line x1="1531.5" y1="480.4" x2="1537.5" y2="480.2" stroke="#D95319" stroke-width="1.3"/>
<line x1="1548" y1="478.2" x2="1554" y2="477.2" stroke="#D95319" stroke-width="1.3"/>
<line x1="1531.5" y1="481.8" x2="1537.5" y2="481.6" stroke="#77AC30" stroke-width="1.3"/>
<line x1="1548" y1="479.6" x2="1554" y2="478.6" stroke="#77AC30" stroke-width="1.3"/>
<line x1="1531.5" y1="483.2" x2="1537.5" y2="483.0" stroke="#0072BD" stroke-width="1.3"/>
<line x1="1548" y1="481.0" x2="1554" y2="480.0" stroke="#0072BD" stroke-width="1.3"/>
<rect x="1537.3" y="465.4" width="8.9" height="19.5" rx="3" fill="#000"/>
<text x="1528.3" y="485" transform="rotate(-25 1528.3 485)" text-anchor="middle" dominant-baseline="central" font-size="19" fill="#000" stroke="#000" stroke-width="0.35">1</text>
<text x="1545.5" y="484.2" transform="rotate(-25 1545.5 484.2)" text-anchor="middle" dominant-baseline="central" font-size="19" fill="#000" stroke="#000" stroke-width="0.35">1</text>
<path d="M952.8,12.9 L952.8,14.7 L960.6,28.1 L969.5,45.9 L973.6,53.0 M986.8,70.8 L987.3,71.5 L994.0,83.8 L1000.7,96.1 L1007.4,103.9 L1014.1,112.8 L1023.0,126.2 L1036.4,141.8 L1044.3,150.0 L1052.1,159.7 L1065.6,173.2 L1077.2,185.7 L1090.7,200.2 L1102.3,211.8 L1115.8,223.4 L1131.3,234.9 L1140.1,241.5 L1149.1,248.2 L1150.1,248.8 L1152.7,245.4 L1146.1,229.4 L1144.0,223.6 M1138.1,202.3 L1138.0,202.1 L1137.9,195.0 L1140.0,186.7 L1142.9,177.0 L1145.7,171.2 L1150.0,167.4 L1155.7,164.6 L1171.3,156.8 L1189.2,150.1 L1204.8,153.0 L1218.2,150.1 L1233.8,152.3 L1240.0,154.3 L1245.9,156.2 L1259.0,154.3 L1275.7,155.5 L1299.4,160.2 L1328.0,166.2 L1354.1,168.5 L1377.5,170.4 M1399.7,172.4 L1401.7,172.6 L1420.0,175.7 L1489.2,183.9 L1587.0,195.2" fill="none" stroke="#000" stroke-width="1.3" stroke-linejoin="round"/>
<path d="M918.0,29.2 L920.5,29.2 L926.0,41.4 L931.6,53.7 L940.5,62.6 L948.9,74.3 M970.9,111.9 L980.7,119.5 L987.3,128.4 L996.3,137.3 L1003.9,150.0 L1015.4,161.6 L1027.0,175.1 L1040.5,188.6 L1056.0,202.1 L1073.4,213.7 L1090.7,227.2 L1108.1,238.8 L1127.4,250.4 L1146.1,258.8 L1163.4,264.1 L1163.6,263.5 M1163.9,220.4 L1166.0,214.5 L1169.2,211.6 L1174.0,207.5 L1179.9,204.5 L1191.4,199.1 L1204.8,200.9 L1218.2,199.6 L1233.8,204.7 L1240.0,206.6 L1259.0,209.0 L1287.6,216.1 L1311.3,225.6 L1335.1,235.1 L1356.5,244.6 L1357.0,256.5 L1363.6,267.2 L1358.9,276.7 L1352.7,278.8 M1310.1,287.7 L1309.0,287.9 L1287.6,288.6 L1269.1,288.6 L1246.8,286.3 L1224.6,283.4 L1204.5,279.7 L1199.3,287.8 L1209.7,296.7 L1224.6,307.1 L1239.4,316.0 L1258.7,323.5 L1260.0,323.6 L1272.5,329.9 L1291.2,335.6 L1306.8,339.8 L1321.8,342.3 M1364.6,350.6 L1365.6,350.8 L1380.0,353.0 L1406.7,358.3 L1433.5,362.8 L1454.9,363.7 L1480.0,365.7 L1515.7,368.3 L1551.3,370.1 L1587.0,372.8" fill="none" stroke="#000" stroke-width="1.3" stroke-linejoin="round"/>
<path d="M918.0,79.3 L920.5,79.3 L927.1,88.3 L933.8,97.2 L940.5,108.3 L947.2,119.5 L949.9,123.6 M964.0,140.7 L967.3,144.0 L970.6,150.0 L980.7,161.1 L994.0,176.8 L1000.0,186.7 L1005.2,191.2 L1011.6,198.3 L1023.2,207.9 L1040.5,221.4 L1057.9,233.0 L1071.7,241.9 L1079.1,246.3 L1094.0,252.3 L1110.0,258.2 L1119.7,262.0 L1130.0,265.5 L1146.1,269.5 L1163.4,271.5 L1177.5,266.8 L1176.2,260.1 L1175.9,259.0 M1177.6,237.9 L1179.5,236.7 L1190.2,234.0 L1204.9,233.4 L1210.3,237.4 L1217.6,244.7 L1221.0,255.5 L1214.1,267.0 L1199.6,268.2 L1191.5,269.5 L1184.5,276.7 L1188.9,283.4 L1194.9,292.3 L1205.2,301.2 L1217.1,310.1 L1232.0,319.0 L1246.8,326.4 L1260.0,332.5 L1275.6,338.2 L1291.2,343.9 L1315.7,351.7 L1334.2,354.2 M1356.1,358.1 L1380.0,361.5 L1406.7,367.2 L1433.5,370.8 L1460.2,373.5 L1480.0,374.6 L1515.7,378.1 L1551.3,380.8 L1587.0,382.1" fill="none" stroke="#000" stroke-width="1.3" stroke-linejoin="round"/>
<path d="M918.0,145.1 L920.5,145.1 L926.0,152.0 L933.0,162.0 L934.0,163.3 M946.7,181.6 L949.4,185.7 L958.4,194.6 L963.9,204.6 L974.0,212.4 L982.9,223.6 L993.0,230.0 L1004.9,241.9 L1019.7,252.3 L1034.6,262.7 L1049.4,271.6 L1064.3,277.5 L1079.1,283.5 L1094.0,287.2 L1100.0,288.0 L1117.8,289.8 L1135.7,288.9 L1153.5,286.2 L1162.4,285.0 L1174.1,285.6 L1179.8,289.2 M1195.6,304.8 L1196.3,305.6 L1206.7,311.6 L1220.0,323.5 L1240.8,333.3 L1261.6,342.7 L1272.0,347.9 L1282.4,353.1 L1300.0,359.3 L1315.7,365.1 L1342.4,369.5 L1360.2,373.1 L1380.0,377.9 L1406.7,382.4 L1433.5,386.0 L1450.3,387.5 M1472.5,389.2 L1480.0,389.7 L1506.7,392.4 L1520.0,393.5 L1539.3,395.0 L1558.6,395.9 L1573.1,396.4 L1587.0,398.5" fill="none" stroke="#000" stroke-width="1.3" stroke-linejoin="round"/>
<path d="M918.0,190.1 L920.5,190.1 L929.4,203.5 L933.0,207.5 M946.7,225.0 L947.2,225.8 L960.6,234.7 L974.0,245.9 L987.3,259.3 L990.0,264.0 L1000.7,272.0 L1007.4,280.0 L1016.7,287.9 L1034.6,295.3 L1049.4,301.3 L1064.3,306.5 L1079.1,309.5 L1094.0,311.7 L1110.0,312.0 L1117.8,312.4 L1137.4,313.0 L1153.5,308.5 L1162.4,307.6 L1176.6,309.4 L1180.0,312.5 L1187.1,316.9 L1187.5,317.2 M1206.7,328.5 L1206.7,328.5 L1220.0,337.5 L1240.8,346.8 L1261.6,356.2 L1272.0,365.5 L1282.4,366.6 L1300.0,371.0 L1313.4,376.1 L1326.7,380.1 L1340.1,384.1 L1360.2,388.1 L1380.2,390.1 L1390.0,391.4 L1416.7,394.8 L1443.5,398.1 L1464.9,400.8 L1467.4,400.9 M1489.6,402.4 L1497.8,403.1 L1520.0,405.1 L1532.5,406.5 L1544.1,405.6 L1558.6,408.0 L1570.2,407.5 L1587.0,409.6" fill="none" stroke="#000" stroke-width="1.3" stroke-linejoin="round"/>
<path d="M918.0,223.6 L920.5,223.6 L929.4,234.7 L932.7,238.0 M947.5,254.6 L949.4,257.0 L960.6,265.9 L974.0,279.3 L987.3,290.5 L990.0,295.3 L997.4,301.3 L1004.9,308.8 L1019.7,315.5 L1034.6,320.7 L1049.4,325.9 L1064.3,331.2 L1079.1,333.4 L1094.0,334.9 L1100.0,333.5 L1117.8,331.7 L1135.7,329.9 L1153.5,329.0 L1162.4,327.2 L1180.2,330.8 L1190.7,334.8 L1191.4,335.2 M1210.0,347.1 L1215.7,351.7 L1233.5,358.8 L1251.3,364.2 L1265.6,371.3 L1280.0,377.0 L1288.9,378.4 L1300.0,384.1 L1313.4,385.5 L1326.7,389.5 L1340.1,391.5 L1360.2,394.8 L1380.2,400.2 L1390.0,401.5 L1416.7,404.1 L1443.5,406.8 L1470.2,409.5 L1471.6,409.6 M1493.7,412.2 L1497.8,412.9 L1520.0,415.2 L1544.1,414.7 L1558.6,416.7 L1587.0,417.2" fill="none" stroke="#000" stroke-width="1.3" stroke-linejoin="round"/>
<path d="M918.0,248.1 L920.5,248.1 L927.1,257.0 L932.9,263.3 M948.0,279.7 L951.7,283.8 L960.6,292.0 L971.7,309.0 L987.3,317.9 L990.0,319.2 L1004.9,329.7 L1022.7,340.1 L1042.0,346.0 L1064.3,349.8 L1079.1,351.2 L1095.4,353.5 L1100.0,352.2 L1110.7,350.4 L1123.2,350.9 L1135.7,346.8 L1153.5,345.1 L1164.2,344.2 L1178.4,346.0 L1189.1,350.4 L1194.3,351.7 L1194.5,351.8 M1215.0,360.3 L1219.2,362.4 L1233.5,367.7 L1251.3,373.1 L1260.0,378.0 L1272.5,383.5 L1280.0,386.0 L1300.0,392.1 L1313.4,393.5 L1326.7,397.5 L1340.1,401.5 L1360.2,402.8 L1380.2,408.2 L1390.0,409.5 L1416.7,411.5 L1443.5,414.2 L1476.9,416.8 L1477.4,416.9 M1499.5,419.4 L1506.7,420.0 L1520.0,422.5 L1529.7,423.0 L1544.1,422.5 L1558.6,423.9 L1573.1,425.8 L1587.0,424.8" fill="none" stroke="#000" stroke-width="1.3" stroke-linejoin="round"/>
<path d="M918.0,273.7 L920.5,273.7 L929.4,283.0 L931.7,284.7 M945.6,301.4 L947.2,304.5 L960.6,314.6 L974.0,326.8 L989.6,338.0 L1004.9,347.5 L1019.7,355.0 L1034.6,360.2 L1049.4,363.9 L1064.3,366.8 L1079.1,366.8 L1095.4,368.3 L1100.0,366.5 L1117.8,364.7 L1135.7,361.6 L1153.5,359.3 L1162.4,358.4 L1178.4,361.1 L1189.1,362.0 L1194.3,363.3 L1198.4,364.0 M1219.2,371.3 L1219.2,371.3 L1233.5,376.6 L1251.3,382.0 L1265.6,387.3 L1280.0,394.0 L1300.0,399.5 L1313.4,402.8 L1326.7,405.5 L1340.1,408.9 L1360.2,410.2 L1373.5,413.5 L1380.2,416.2 L1390.0,416.8 L1403.4,417.5 L1416.7,420.2 L1443.5,422.2 L1470.2,424.2 L1484.6,424.7 M1506.7,427.2 L1506.7,427.2 L1520.0,428.7 L1534.5,429.2 L1549.0,430.2 L1563.4,431.6 L1587.0,431.6" fill="none" stroke="#000" stroke-width="1.3" stroke-linejoin="round"/>
<path d="M918.0,292.3 L920.5,292.3 L929.4,300.1 L932.0,302.9 M947.3,319.1 L949.4,321.2 L960.6,333.5 L974.0,344.7 L989.6,355.8 L997.4,362.4 L1012.3,368.3 L1027.1,372.8 L1042.0,376.5 L1056.8,379.5 L1068.7,382.4 L1079.1,380.2 L1094.0,381.7 L1100.0,380.7 L1117.8,376.3 L1135.7,373.0 L1153.5,371.8 L1164.2,373.6 L1176.6,371.8 L1189.1,372.7 L1197.8,374.9 L1198.5,375.1 M1219.9,381.3 L1233.5,385.6 L1251.3,390.9 L1265.6,395.4 L1280.0,400.7 L1300.0,405.5 L1313.4,408.2 L1326.7,410.9 L1340.1,414.2 L1360.2,415.5 L1373.5,418.9 L1380.2,421.6 L1390.0,422.2 L1403.4,422.9 L1416.7,426.2 L1443.5,427.5 L1470.2,428.9 L1486.1,429.9 M1508.2,432.7 L1520.0,434.1 L1534.5,435.0 L1549.0,436.0 L1558.6,437.9 L1568.3,437.4 L1587.0,436.4" fill="none" stroke="#000" stroke-width="1.3" stroke-linejoin="round"/>
</g>
<text x="980.7" y="61.5" transform="rotate(53.0 980.7 61.5)" text-anchor="middle" dominant-baseline="central" font-size="19" fill="#000" stroke="#000" stroke-width="0.35">1</text>
<text x="1141.9" y="212.7" transform="rotate(76.8 1141.9 212.7)" text-anchor="middle" dominant-baseline="central" font-size="19" fill="#000" stroke="#000" stroke-width="0.35">1</text>
<text x="1388.6" y="170.2" transform="rotate(5.3 1388.6 170.2)" text-anchor="middle" dominant-baseline="central" font-size="19" fill="#000" stroke="#000" stroke-width="0.35">1</text>
<text x="960.6" y="92.7" transform="rotate(58.5 960.6 92.7)" text-anchor="middle" dominant-baseline="central" font-size="19" fill="#000" stroke="#000" stroke-width="0.35">1.5</text>
<text x="1164.2" y="242.0" transform="rotate(90.0 1164.2 242.0)" text-anchor="middle" dominant-baseline="central" font-size="19" fill="#000" stroke="#000" stroke-width="0.35">1.5</text>
<text x="1331.5" y="282.5" transform="rotate(-10.1 1331.5 282.5)" text-anchor="middle" dominant-baseline="central" font-size="19" fill="#000" stroke="#000" stroke-width="0.35">1.5</text>
<text x="1343.3" y="344.8" transform="rotate(11.0 1343.3 344.8)" text-anchor="middle" dominant-baseline="central" font-size="19" fill="#000" stroke="#000" stroke-width="0.35">1.5</text>
<text x="956.1" y="132.9" transform="rotate(50.6 956.1 132.9)" text-anchor="middle" dominant-baseline="central" font-size="19" fill="#000" stroke="#000" stroke-width="0.35">2</text>
<text x="1174.5" y="248.0" transform="rotate(-87.4 1174.5 248.0)" text-anchor="middle" dominant-baseline="central" font-size="19" fill="#000" stroke="#000" stroke-width="0.35">2</text>
<text x="1345.3" y="354.3" transform="rotate(10.4 1345.3 354.3)" text-anchor="middle" dominant-baseline="central" font-size="19" fill="#000" stroke="#000" stroke-width="0.35">2</text>
<text x="940.5" y="172.3" transform="rotate(55.2 940.5 172.3)" text-anchor="middle" dominant-baseline="central" font-size="19" fill="#000" stroke="#000" stroke-width="0.35">3</text>
<text x="1188.2" y="296.5" transform="rotate(44.8 1188.2 296.5)" text-anchor="middle" dominant-baseline="central" font-size="19" fill="#000" stroke="#000" stroke-width="0.35">3</text>
<text x="1461.5" y="387.4" transform="rotate(4.5 1461.5 387.4)" text-anchor="middle" dominant-baseline="central" font-size="19" fill="#000" stroke="#000" stroke-width="0.35">3</text>
<text x="940.5" y="215.8" transform="rotate(52.1 940.5 215.8)" text-anchor="middle" dominant-baseline="central" font-size="19" fill="#000" stroke="#000" stroke-width="0.35">4</text>
<text x="1196.9" y="323.2" transform="rotate(30.6 1196.9 323.2)" text-anchor="middle" dominant-baseline="central" font-size="19" fill="#000" stroke="#000" stroke-width="0.35">4</text>
<text x="1478.5" y="400.3" transform="rotate(3.8 1478.5 400.3)" text-anchor="middle" dominant-baseline="central" font-size="19" fill="#000" stroke="#000" stroke-width="0.35">4</text>
<text x="940.5" y="245.9" transform="rotate(48.3 940.5 245.9)" text-anchor="middle" dominant-baseline="central" font-size="19" fill="#000" stroke="#000" stroke-width="0.35">5</text>
<text x="1201.4" y="340.1" transform="rotate(32.7 1201.4 340.1)" text-anchor="middle" dominant-baseline="central" font-size="19" fill="#000" stroke="#000" stroke-width="0.35">5</text>
<text x="1482.7" y="409.3" transform="rotate(6.8 1482.7 409.3)" text-anchor="middle" dominant-baseline="central" font-size="19" fill="#000" stroke="#000" stroke-width="0.35">5</text>
<text x="940.5" y="271.5" transform="rotate(47.5 940.5 271.5)" text-anchor="middle" dominant-baseline="central" font-size="19" fill="#000" stroke="#000" stroke-width="0.35">6</text>
<text x="1205.0" y="354.1" transform="rotate(22.6 1205.0 354.1)" text-anchor="middle" dominant-baseline="central" font-size="19" fill="#000" stroke="#000" stroke-width="0.35">6</text>
<text x="1488.4" y="417.3" transform="rotate(6.5 1488.4 417.3)" text-anchor="middle" dominant-baseline="central" font-size="19" fill="#000" stroke="#000" stroke-width="0.35">6</text>
<text x="940.5" y="291.5" transform="rotate(50.1 940.5 291.5)" text-anchor="middle" dominant-baseline="central" font-size="19" fill="#000" stroke="#000" stroke-width="0.35">7</text>
<text x="1209.4" y="364.8" transform="rotate(19.3 1209.4 364.8)" text-anchor="middle" dominant-baseline="central" font-size="19" fill="#000" stroke="#000" stroke-width="0.35">7</text>
<text x="1495.7" y="424.3" transform="rotate(7.3 1495.7 424.3)" text-anchor="middle" dominant-baseline="central" font-size="19" fill="#000" stroke="#000" stroke-width="0.35">7</text>
<text x="939.4" y="311.2" transform="rotate(46.5 939.4 311.2)" text-anchor="middle" dominant-baseline="central" font-size="19" fill="#000" stroke="#000" stroke-width="0.35">8</text>
<text x="1209.4" y="376.3" transform="rotate(16.4 1209.4 376.3)" text-anchor="middle" dominant-baseline="central" font-size="19" fill="#000" stroke="#000" stroke-width="0.35">8</text>
<text x="1497.2" y="429.8" transform="rotate(7.7 1497.2 429.8)" text-anchor="middle" dominant-baseline="central" font-size="19" fill="#000" stroke="#000" stroke-width="0.35">8</text>
<rect x="78" y="12.7" width="668.5" height="518.6999999999999" fill="none" stroke="#262626" stroke-width="4"/>
<line x1="189.4" y1="531.4" x2="189.4" y2="522.9" stroke="#262626" stroke-width="4"/>
<line x1="189.4" y1="12.7" x2="189.4" y2="21.2" stroke="#262626" stroke-width="4"/>
<text x="189.4" y="562" text-anchor="middle" font-size="30" fill="#262626">10</text>
<line x1="375.1" y1="531.4" x2="375.1" y2="522.9" stroke="#262626" stroke-width="4"/>
<line x1="375.1" y1="12.7" x2="375.1" y2="21.2" stroke="#262626" stroke-width="4"/>
<text x="375.1" y="562" text-anchor="middle" font-size="30" fill="#262626">15</text>
<line x1="560.8" y1="531.4" x2="560.8" y2="522.9" stroke="#262626" stroke-width="4"/>
<line x1="560.8" y1="12.7" x2="560.8" y2="21.2" stroke="#262626" stroke-width="4"/>
<text x="560.8" y="562" text-anchor="middle" font-size="30" fill="#262626">20</text>
<text x="746.5" y="562" text-anchor="middle" font-size="30" fill="#262626">25</text>
<text x="72.7" y="538.4" text-anchor="end" font-size="30" fill="#262626">0.4</text>
<line x1="78" y1="444.9" x2="86.5" y2="444.9" stroke="#262626" stroke-width="4"/>
<line x1="746.5" y1="444.9" x2="738.0" y2="444.9" stroke="#262626" stroke-width="4"/>
<text x="72.7" y="451.9" text-anchor="end" font-size="30" fill="#262626">0.6</text>
<line x1="78" y1="358.5" x2="86.5" y2="358.5" stroke="#262626" stroke-width="4"/>
<line x1="746.5" y1="358.5" x2="738.0" y2="358.5" stroke="#262626" stroke-width="4"/>
<text x="72.7" y="365.5" text-anchor="end" font-size="30" fill="#262626">0.8</text>
<line x1="78" y1="272.1" x2="86.5" y2="272.1" stroke="#262626" stroke-width="4"/>
<line x1="746.5" y1="272.1" x2="738.0" y2="272.1" stroke="#262626" stroke-width="4"/>
<text x="72.7" y="279.1" text-anchor="end" font-size="30" fill="#262626">1</text>
<line x1="78" y1="185.6" x2="86.5" y2="185.6" stroke="#262626" stroke-width="4"/>
<line x1="746.5" y1="185.6" x2="738.0" y2="185.6" stroke="#262626" stroke-width="4"/>
<text x="72.7" y="192.6" text-anchor="end" font-size="30" fill="#262626">1.2</text>
<line x1="78" y1="99.2" x2="86.5" y2="99.2" stroke="#262626" stroke-width="4"/>
<line x1="746.5" y1="99.2" x2="738.0" y2="99.2" stroke="#262626" stroke-width="4"/>
<text x="72.7" y="106.2" text-anchor="end" font-size="30" fill="#262626">1.4</text>
<text x="72.7" y="19.7" text-anchor="end" font-size="30" fill="#262626">1.6</text>
<text x="217" y="600.7" font-size="34" fill="#262626" textLength="331" lengthAdjust="spacingAndGlyphs">Inertial Amplifier Angle</text>
<text x="560" y="600.7" font-size="34" font-style="italic" fill="#262626">ϕ</text>
<text x="579" y="588" font-size="23" fill="#262626">(<tspan font-style="italic">o</tspan>)</text>
<text x="22" y="362.8" transform="rotate(-90 22 362.8)" font-size="34" fill="#262626" textLength="151.3" lengthAdjust="spacingAndGlyphs">Misstuning</text>
<text x="22" y="200" transform="rotate(-90 22 200)" font-size="33" font-style="italic" fill="#262626">α</text>
<text x="253.5" y="663.5" font-size="38.4" fill="#000" textLength="254.5" lengthAdjust="spacingAndGlyphs">(a) Pendulum 1</text>
<rect x="918" y="12.9" width="669" height="518.7" fill="none" stroke="#262626" stroke-width="4"/>
<line x1="1029.5" y1="531.6" x2="1029.5" y2="523.1" stroke="#262626" stroke-width="4"/>
<line x1="1029.5" y1="12.9" x2="1029.5" y2="21.4" stroke="#262626" stroke-width="4"/>
<text x="1029.5" y="562" text-anchor="middle" font-size="30" fill="#262626">10</text>
<line x1="1215.3" y1="531.6" x2="1215.3" y2="523.1" stroke="#262626" stroke-width="4"/>
<line x1="1215.3" y1="12.9" x2="1215.3" y2="21.4" stroke="#262626" stroke-width="4"/>
<text x="1215.3" y="562" text-anchor="middle" font-size="30" fill="#262626">15</text>
<line x1="1401.2" y1="531.6" x2="1401.2" y2="523.1" stroke="#262626" stroke-width="4"/>
<line x1="1401.2" y1="12.9" x2="1401.2" y2="21.4" stroke="#262626" stroke-width="4"/>
<text x="1401.2" y="562" text-anchor="middle" font-size="30" fill="#262626">20</text>
<text x="1587.0" y="562" text-anchor="middle" font-size="30" fill="#262626">25</text>
<text x="912.7" y="538.6" text-anchor="end" font-size="30" fill="#262626">0.4</text>
<line x1="918" y1="445.2" x2="926.5" y2="445.2" stroke="#262626" stroke-width="4"/>
<line x1="1587" y1="445.2" x2="1578.5" y2="445.2" stroke="#262626" stroke-width="4"/>
<text x="912.7" y="452.2" text-anchor="end" font-size="30" fill="#262626">0.6</text>
<line x1="918" y1="358.7" x2="926.5" y2="358.7" stroke="#262626" stroke-width="4"/>
<line x1="1587" y1="358.7" x2="1578.5" y2="358.7" stroke="#262626" stroke-width="4"/>
<text x="912.7" y="365.7" text-anchor="end" font-size="30" fill="#262626">0.8</text>
<line x1="918" y1="272.2" x2="926.5" y2="272.2" stroke="#262626" stroke-width="4"/>
<line x1="1587" y1="272.2" x2="1578.5" y2="272.2" stroke="#262626" stroke-width="4"/>
<text x="912.7" y="279.2" text-anchor="end" font-size="30" fill="#262626">1</text>
<line x1="918" y1="185.8" x2="926.5" y2="185.8" stroke="#262626" stroke-width="4"/>
<line x1="1587" y1="185.8" x2="1578.5" y2="185.8" stroke="#262626" stroke-width="4"/>
<text x="912.7" y="192.8" text-anchor="end" font-size="30" fill="#262626">1.2</text>
<line x1="918" y1="99.4" x2="926.5" y2="99.4" stroke="#262626" stroke-width="4"/>
<line x1="1587" y1="99.4" x2="1578.5" y2="99.4" stroke="#262626" stroke-width="4"/>
<text x="912.7" y="106.4" text-anchor="end" font-size="30" fill="#262626">1.4</text>
<text x="912.7" y="19.9" text-anchor="end" font-size="30" fill="#262626">1.6</text>
<text x="1057" y="600.7" font-size="34" fill="#262626" textLength="331" lengthAdjust="spacingAndGlyphs">Inertial Amplifier Angle</text>
<text x="1400" y="600.7" font-size="34" font-style="italic" fill="#262626">ϕ</text>
<text x="1419" y="588" font-size="23" fill="#262626">(<tspan font-style="italic">o</tspan>)</text>
<text x="862" y="362.8" transform="rotate(-90 862 362.8)" font-size="34" fill="#262626" textLength="151.3" lengthAdjust="spacingAndGlyphs">Misstuning</text>
<text x="862" y="200" transform="rotate(-90 862 200)" font-size="33" font-style="italic" fill="#262626">α</text>
<text x="1093.5" y="663.5" font-size="38.4" fill="#000" textLength="254.5" lengthAdjust="spacingAndGlyphs">(b) Pendulum 2</text>
</svg>
</body></html>
